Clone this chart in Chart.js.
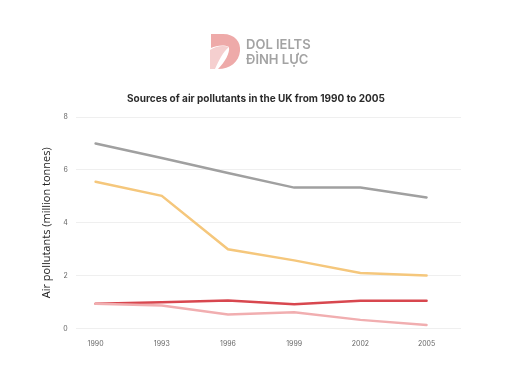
<!DOCTYPE html>
<html>
<head>
<meta charset="utf-8">
<script src="https://cdn.jsdelivr.net/npm/chart.js@4"></script>
<style>
  html, body { margin: 0; padding: 0; background: #fff; }
  #wrap { width: 512px; height: 384px; position: relative; }
</style>
</head>
<body>
<div id="wrap"><canvas id="airChart" width="512" height="384"></canvas></div>
<script>
// data
const years = [1990, 1993, 1996, 1999, 2002, 2005];
const yTicks = [0, 2, 4, 6, 8];
const greySeries = [7.0, 6.45, 5.88, 5.33, 5.33, 4.96];
const yellowSeries = [5.55, 5.02, 3.0, 2.58, 2.1, 2.01];
const redSeries = [0.94, 1.0, 1.06, 0.92, 1.05, 1.05];
const pinkSeries = [0.94, 0.87, 0.53, 0.62, 0.33, 0.14];
const chartTitle = 'Sources of air pollutants in the UK from 1990 to 2005';

function toPoints(values) {
  return values.map((v, i) => ({ x: years[i], y: v }));
}

// logo at the top (DOL IELTS mark) + centred title
const logoPlugin = {
  id: 'logo',
  afterDraw(chart) {
    const ctx = chart.ctx;
    ctx.save();
    ctx.fillStyle = '#eeaaa9';
    ctx.beginPath();
    ctx.moveTo(211, 34);
    ctx.lineTo(223, 34);
    ctx.bezierCurveTo(235, 34, 241, 42, 240, 51);
    ctx.bezierCurveTo(239, 62, 230, 69, 218, 69);
    ctx.bezierCurveTo(225, 62, 230, 53, 229, 47);
    ctx.bezierCurveTo(223, 44, 216, 46, 211, 48);
    ctx.closePath();
    ctx.fill();
    ctx.fillStyle = '#f5cfcf';
    ctx.beginPath();
    ctx.moveTo(210, 50);
    ctx.bezierCurveTo(216, 46, 223, 45, 229, 47);
    ctx.bezierCurveTo(223, 52, 219, 60, 215, 69);
    ctx.lineTo(210, 69);
    ctx.closePath();
    ctx.fill();
    ctx.fillStyle = '#a3a3a3';
    ctx.font = '600 13px Inter';
    ctx.textBaseline = 'middle';
    ctx.fillText('DOL IELTS', 246, 45);
    ctx.fillText('ĐÌNH LỰC', 246, 60);

    ctx.fillStyle = '#2b2b2b';
    ctx.font = 'bold 10px Inter';
    ctx.textAlign = 'center';
    ctx.fillText(chartTitle, 256, 99);
    ctx.restore();
  }
};

const ctx = document.getElementById('airChart').getContext('2d');
new Chart(ctx, {
  type: 'line',
  data: {
    datasets: [
      { label: 'Grey', data: toPoints(greySeries), borderColor: '#a0a0a0' },
      { label: 'Yellow', data: toPoints(yellowSeries), borderColor: '#f5c77c' },
      { label: 'Pink', data: toPoints(pinkSeries), borderColor: '#f1aeb0' },
      { label: 'Red', data: toPoints(redSeries), borderColor: '#d8474f' }
    ]
  },
  options: {
    responsive: false,
    animation: false,
    layout: { padding: { top: 117, left: 36, right: 51, bottom: 33 } },
    elements: {
      line: { borderWidth: 2.5, tension: 0, borderCapStyle: 'round' },
      point: { radius: 0 }
    },
    plugins: {
      legend: { display: false },
      tooltip: { enabled: false },
      title: { display: false }
    },
    scales: {
      x: {
        type: 'linear',
        min: 1989.1,
        max: 2006.56,
        afterBuildTicks: axis => { axis.ticks = years.map(v => ({ value: v })); },
        grid: { display: false },
        border: { display: false },
        ticks: {
          color: '#666',
          font: { family: 'Inter', size: 7 },
          padding: 3,
          callback: v => String(v)
        }
      },
      y: {
        min: 0,
        max: 8,
        afterBuildTicks: axis => { axis.ticks = yTicks.map(v => ({ value: v })); },
        grid: { color: '#efefef', drawTicks: false },
        border: { display: false },
        ticks: {
          color: '#666',
          font: { family: 'Inter', size: 7 },
          padding: 8
        },
        title: {
          display: true,
          text: 'Air pollutants (million tonnes)',
          color: '#222',
          font: { family: 'Open Sans', size: 11 },
          padding: { bottom: 2 }
        }
      }
    }
  },
  plugins: [logoPlugin]
});
</script>
</body>
</html>
